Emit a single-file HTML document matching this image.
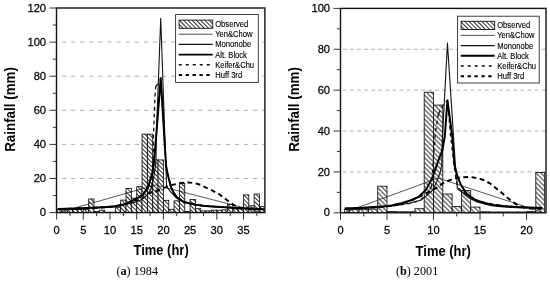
<!DOCTYPE html>
<html><head><meta charset="utf-8"><title>Rainfall hyetographs</title>
<style>
html,body{margin:0;padding:0;background:#fff;}
svg{display:block;}
.tk{font-family:"Liberation Sans",sans-serif;font-size:11.8px;fill:#000;stroke:#000;stroke-width:0.25px;}
.ax{font-family:"Liberation Sans",sans-serif;font-size:13.4px;font-weight:bold;fill:#000;}
.lg{font-family:"Liberation Sans",sans-serif;font-size:8.15px;fill:#000;stroke:#000;stroke-width:0.12px;}
.cap{font-family:"Liberation Serif",serif;font-size:12.2px;fill:#000;}
</style></head><body>
<svg width="550" height="282" viewBox="0 0 550 282">
<defs>
<pattern id="hatch" patternUnits="userSpaceOnUse" width="3" height="3" patternTransform="rotate(45)">
<rect width="3" height="3" fill="#fff"/>
<line x1="0" y1="1.5" x2="3" y2="1.5" stroke="#000" stroke-width="0.82"/>
</pattern>
<pattern id="hatchB" patternUnits="userSpaceOnUse" width="3.4" height="3.4" patternTransform="rotate(45)">
<rect width="3.4" height="3.4" fill="#fff"/>
<line x1="0" y1="1.7" x2="3.4" y2="1.7" stroke="#000" stroke-width="0.85"/>
</pattern>
</defs>
<rect width="550" height="282" fill="#fff"/>
<clipPath id="clip1"><rect x="56.5" y="8" width="208.4" height="204.6"/></clipPath>
<line x1="61.9" y1="178.5" x2="264.9" y2="178.5" stroke="#b0b0b0" stroke-width="1" stroke-dasharray="4.3 4.8"/>
<line x1="61.9" y1="144.4" x2="264.9" y2="144.4" stroke="#b0b0b0" stroke-width="1" stroke-dasharray="4.3 4.8"/>
<line x1="61.9" y1="110.3" x2="264.9" y2="110.3" stroke="#b0b0b0" stroke-width="1" stroke-dasharray="4.3 4.8"/>
<line x1="61.9" y1="76.2" x2="264.9" y2="76.2" stroke="#b0b0b0" stroke-width="1" stroke-dasharray="4.3 4.8"/>
<line x1="61.9" y1="42.1" x2="264.9" y2="42.1" stroke="#b0b0b0" stroke-width="1" stroke-dasharray="4.3 4.8"/>
<g clip-path="url(#clip1)">
<rect x="57.67" y="209.53" width="4.27" height="3.07" fill="url(#hatch)" stroke="#111" stroke-width="0.85"/>
<rect x="61.94" y="209.53" width="5.34" height="3.07" fill="url(#hatch)" stroke="#111" stroke-width="0.85"/>
<rect x="67.28" y="209.7" width="5.34" height="2.9" fill="url(#hatch)" stroke="#111" stroke-width="0.85"/>
<rect x="72.62" y="209.36" width="5.34" height="3.24" fill="url(#hatch)" stroke="#111" stroke-width="0.85"/>
<rect x="77.96" y="209.53" width="5.34" height="3.07" fill="url(#hatch)" stroke="#111" stroke-width="0.85"/>
<rect x="83.3" y="209.36" width="5.34" height="3.24" fill="url(#hatch)" stroke="#111" stroke-width="0.85"/>
<rect x="88.64" y="198.96" width="5.34" height="13.64" fill="url(#hatch)" stroke="#111" stroke-width="0.85"/>
<rect x="93.98" y="211.41" width="5.34" height="1.19" fill="url(#hatch)" stroke="#111" stroke-width="0.85"/>
<rect x="99.32" y="210.21" width="5.34" height="2.39" fill="url(#hatch)" stroke="#111" stroke-width="0.85"/>
<rect x="104.66" y="212.26" width="5.34" height="0.34" fill="url(#hatch)" stroke="#111" stroke-width="0.85"/>
<rect x="110" y="212.26" width="5.34" height="0.34" fill="url(#hatch)" stroke="#111" stroke-width="0.85"/>
<rect x="115.34" y="207.31" width="5.34" height="5.29" fill="url(#hatch)" stroke="#111" stroke-width="0.85"/>
<rect x="120.68" y="200.15" width="5.34" height="12.45" fill="url(#hatch)" stroke="#111" stroke-width="0.85"/>
<rect x="126.02" y="188.56" width="5.34" height="24.04" fill="url(#hatch)" stroke="#111" stroke-width="0.85"/>
<rect x="131.36" y="198.11" width="5.34" height="14.49" fill="url(#hatch)" stroke="#111" stroke-width="0.85"/>
<rect x="136.7" y="186.68" width="5.34" height="25.92" fill="url(#hatch)" stroke="#111" stroke-width="0.85"/>
<rect x="142.04" y="134.17" width="5.34" height="78.43" fill="url(#hatch)" stroke="#111" stroke-width="0.85"/>
<rect x="147.38" y="134.17" width="5.34" height="78.43" fill="url(#hatch)" stroke="#111" stroke-width="0.85"/>
<rect x="152.72" y="159.92" width="5.34" height="52.68" fill="url(#hatch)" stroke="#111" stroke-width="0.85"/>
<rect x="158.06" y="159.92" width="5.34" height="52.68" fill="url(#hatch)" stroke="#111" stroke-width="0.85"/>
<rect x="163.4" y="200.32" width="5.34" height="12.28" fill="url(#hatch)" stroke="#111" stroke-width="0.85"/>
<rect x="168.74" y="209.36" width="5.34" height="3.24" fill="url(#hatch)" stroke="#111" stroke-width="0.85"/>
<rect x="174.08" y="200.84" width="5.34" height="11.76" fill="url(#hatch)" stroke="#111" stroke-width="0.85"/>
<rect x="179.42" y="183.1" width="5.34" height="29.5" fill="url(#hatch)" stroke="#111" stroke-width="0.85"/>
<rect x="184.76" y="211.58" width="5.34" height="1.02" fill="url(#hatch)" stroke="#111" stroke-width="0.85"/>
<rect x="190.1" y="199.47" width="5.34" height="13.13" fill="url(#hatch)" stroke="#111" stroke-width="0.85"/>
<rect x="195.44" y="208.68" width="5.34" height="3.92" fill="url(#hatch)" stroke="#111" stroke-width="0.85"/>
<rect x="200.78" y="210.89" width="5.34" height="1.71" fill="url(#hatch)" stroke="#111" stroke-width="0.85"/>
<rect x="206.12" y="210.89" width="5.34" height="1.71" fill="url(#hatch)" stroke="#111" stroke-width="0.85"/>
<rect x="211.46" y="210.21" width="5.34" height="2.39" fill="url(#hatch)" stroke="#111" stroke-width="0.85"/>
<rect x="216.8" y="210.21" width="5.34" height="2.39" fill="url(#hatch)" stroke="#111" stroke-width="0.85"/>
<rect x="222.14" y="209.87" width="5.34" height="2.73" fill="url(#hatch)" stroke="#111" stroke-width="0.85"/>
<rect x="227.48" y="204.59" width="5.34" height="8.01" fill="url(#hatch)" stroke="#111" stroke-width="0.85"/>
<rect x="232.82" y="209.02" width="5.34" height="3.58" fill="url(#hatch)" stroke="#111" stroke-width="0.85"/>
<rect x="238.16" y="209.02" width="5.34" height="3.58" fill="url(#hatch)" stroke="#111" stroke-width="0.85"/>
<rect x="243.5" y="194.87" width="5.34" height="17.73" fill="url(#hatch)" stroke="#111" stroke-width="0.85"/>
<rect x="248.84" y="205.78" width="5.34" height="6.82" fill="url(#hatch)" stroke="#111" stroke-width="0.85"/>
<rect x="254.18" y="194.02" width="5.34" height="18.58" fill="url(#hatch)" stroke="#111" stroke-width="0.85"/>
<rect x="259.52" y="206.63" width="4.54" height="5.97" fill="url(#hatch)" stroke="#111" stroke-width="0.85"/>
<polyline points="59.27,212.43 155.39,184.98 262.19,212.43" fill="none" stroke="#222" stroke-width="0.75"/>
<polyline points="152.72,185.32 150.05,191.29 144.71,196.4 139.37,199.81 131.36,202.71 120.68,205.1 104.66,207.31 83.3,208.68 59.27,209.36" fill="none" stroke="#111" stroke-width="1.3" stroke-dasharray="3.7 3.3"/>
<polyline points="155.92,85.75 155.12,93.25 153.52,134.17 152.72,185.32" fill="none" stroke="#111" stroke-width="1.3" stroke-dasharray="3.7 3.3"/>
<polyline points="155.92,85.75 158.59,83.87 160.73,77.91 164.25,136.05 166.07,166.05 171.41,187.88 176.75,196.74 184.76,201.86 195.44,204.42 211.46,206.29 232.82,207.83 262.19,209.53" fill="none" stroke="#111" stroke-width="1.3" stroke-dasharray="3.7 3.3"/>
<polyline points="59.27,209.19 75.29,208.51 93.98,207.74 106,207.14 114,206.55 120.15,205.35 126.02,203.99 134.4,199.98 138.84,197.6 143.11,194.7 147.38,193.5 154.86,191.63 160.73,189.24 167.14,186.68 173.28,184.64 181.02,183.1 188.5,182.42 195.44,183.27 200.78,184.98 206.49,187.88 212.53,190.61 218.94,194.02 224.81,198.45 230.68,203.05 234.96,205.61 239.76,207.66 248.84,208.68 262.19,209.28" fill="none" stroke="#000" stroke-width="2" stroke-dasharray="4.8 3.5"/>
<polyline points="57.67,209.1 75.29,208.68 93.98,207.83 110,206.97 123.35,204.84 128.69,203.73 134.03,202.37 139.37,200.66 144.71,197.43 146.85,195.04 150.74,190.01 151.65,185.32 153.95,175.94 155.55,165.37 156.03,159.75 156.3,136.05 160.73,18.23 166.07,171.68 166.6,186.68 170.88,192.14 176.75,198.28 182.09,201.52 187.43,203.22 195.97,205.27 206.12,206.46 216.8,206.97 232.82,207.83 248.84,208.68 263.79,209.28" fill="none" stroke="#111" stroke-width="1.1" stroke-linejoin="round"/>
<polyline points="57.67,208.93 75.29,208.42 93.98,207.66 106,207.06 114,206.46 120.15,205.27 126.02,203.9 134.4,199.81 138.84,197.43 143.11,194.36 145.78,190.61 148.45,186.17 149.68,181.91 152.4,172.53 153.95,162.3 156.19,136.05 160.73,77.91 164.25,136.05 166.07,166.05 167.51,173.73 170.88,186.68 174.45,194.7 176.75,197.08 182.09,201.01 185.83,202.54 195.97,204.76 206.12,206.12 216.8,206.63 232.82,207.66 248.84,208.51 263.79,209.19" fill="none" stroke="#000" stroke-width="2" stroke-linejoin="round"/>
</g>
<rect x="56.5" y="8" width="208.4" height="204.6" fill="none" stroke="#111" stroke-width="1.4"/>
<line x1="49.5" y1="212.6" x2="56.5" y2="212.6" stroke="#333" stroke-width="1"/>
<text transform="translate(46.1 216.2) scale(0.95 1)" text-anchor="end" class="tk">0</text>
<line x1="52.9" y1="195.55" x2="56.5" y2="195.55" stroke="#333" stroke-width="1"/>
<line x1="49.5" y1="178.5" x2="56.5" y2="178.5" stroke="#333" stroke-width="1"/>
<text transform="translate(46.1 182.1) scale(0.95 1)" text-anchor="end" class="tk">20</text>
<line x1="52.9" y1="161.45" x2="56.5" y2="161.45" stroke="#333" stroke-width="1"/>
<line x1="49.5" y1="144.4" x2="56.5" y2="144.4" stroke="#333" stroke-width="1"/>
<text transform="translate(46.1 148) scale(0.95 1)" text-anchor="end" class="tk">40</text>
<line x1="52.9" y1="127.35" x2="56.5" y2="127.35" stroke="#333" stroke-width="1"/>
<line x1="49.5" y1="110.3" x2="56.5" y2="110.3" stroke="#333" stroke-width="1"/>
<text transform="translate(46.1 113.9) scale(0.95 1)" text-anchor="end" class="tk">60</text>
<line x1="52.9" y1="93.25" x2="56.5" y2="93.25" stroke="#333" stroke-width="1"/>
<line x1="49.5" y1="76.2" x2="56.5" y2="76.2" stroke="#333" stroke-width="1"/>
<text transform="translate(46.1 79.8) scale(0.95 1)" text-anchor="end" class="tk">80</text>
<line x1="52.9" y1="59.15" x2="56.5" y2="59.15" stroke="#333" stroke-width="1"/>
<line x1="49.5" y1="42.1" x2="56.5" y2="42.1" stroke="#333" stroke-width="1"/>
<text transform="translate(46.1 45.7) scale(0.95 1)" text-anchor="end" class="tk">100</text>
<line x1="52.9" y1="25.05" x2="56.5" y2="25.05" stroke="#333" stroke-width="1"/>
<line x1="49.5" y1="8" x2="56.5" y2="8" stroke="#333" stroke-width="1"/>
<text transform="translate(46.1 11.6) scale(0.95 1)" text-anchor="end" class="tk">120</text>
<line x1="56.6" y1="212.6" x2="56.6" y2="219.6" stroke="#333" stroke-width="1"/>
<text transform="translate(56.6 234) scale(0.95 1)" text-anchor="middle" class="tk">0</text>
<line x1="69.95" y1="212.6" x2="69.95" y2="216.2" stroke="#333" stroke-width="1"/>
<line x1="83.3" y1="212.6" x2="83.3" y2="219.6" stroke="#333" stroke-width="1"/>
<text transform="translate(83.3 234) scale(0.95 1)" text-anchor="middle" class="tk">5</text>
<line x1="96.65" y1="212.6" x2="96.65" y2="216.2" stroke="#333" stroke-width="1"/>
<line x1="110" y1="212.6" x2="110" y2="219.6" stroke="#333" stroke-width="1"/>
<text transform="translate(110 234) scale(0.95 1)" text-anchor="middle" class="tk">10</text>
<line x1="123.35" y1="212.6" x2="123.35" y2="216.2" stroke="#333" stroke-width="1"/>
<line x1="136.7" y1="212.6" x2="136.7" y2="219.6" stroke="#333" stroke-width="1"/>
<text transform="translate(136.7 234) scale(0.95 1)" text-anchor="middle" class="tk">15</text>
<line x1="150.05" y1="212.6" x2="150.05" y2="216.2" stroke="#333" stroke-width="1"/>
<line x1="163.4" y1="212.6" x2="163.4" y2="219.6" stroke="#333" stroke-width="1"/>
<text transform="translate(163.4 234) scale(0.95 1)" text-anchor="middle" class="tk">20</text>
<line x1="176.75" y1="212.6" x2="176.75" y2="216.2" stroke="#333" stroke-width="1"/>
<line x1="190.1" y1="212.6" x2="190.1" y2="219.6" stroke="#333" stroke-width="1"/>
<text transform="translate(190.1 234) scale(0.95 1)" text-anchor="middle" class="tk">25</text>
<line x1="203.45" y1="212.6" x2="203.45" y2="216.2" stroke="#333" stroke-width="1"/>
<line x1="216.8" y1="212.6" x2="216.8" y2="219.6" stroke="#333" stroke-width="1"/>
<text transform="translate(216.8 234) scale(0.95 1)" text-anchor="middle" class="tk">30</text>
<line x1="230.15" y1="212.6" x2="230.15" y2="216.2" stroke="#333" stroke-width="1"/>
<line x1="243.5" y1="212.6" x2="243.5" y2="219.6" stroke="#333" stroke-width="1"/>
<text transform="translate(243.5 234) scale(0.95 1)" text-anchor="middle" class="tk">35</text>
<line x1="256.85" y1="212.6" x2="256.85" y2="216.2" stroke="#333" stroke-width="1"/>
<text transform="translate(161.1 255.4) scale(0.94 1)" text-anchor="middle" class="ax" style="font-size:13.8px">Time (hr)</text>
<text transform="translate(15.4 109.5) rotate(-90) scale(0.93 1)" text-anchor="middle" class="ax" style="font-size:14.4px">Rainfall (mm)</text>
<text x="137.2" y="275.4" text-anchor="middle" class="cap">(<tspan font-weight="bold">a</tspan>) 1984</text>
<rect x="175.6" y="14.55" width="82.7" height="67.85" fill="#fff" stroke="#2a2a2a" stroke-width="0.9"/>
<rect x="179.1" y="20.1" width="33.6" height="8.2" fill="url(#hatch)" stroke="#111" stroke-width="0.9"/>
<text transform="translate(215.2 26.9) scale(0.935 1)" class="lg">Observed</text>
<line x1="178.7" y1="34.2" x2="212.7" y2="34.2" stroke="#222" stroke-width="0.8"/>
<text transform="translate(215.2 37.1) scale(0.935 1)" class="lg">Yen&amp;Chow</text>
<line x1="178.7" y1="44.4" x2="212.7" y2="44.4" stroke="#111" stroke-width="1.1"/>
<text transform="translate(215.2 47.3) scale(0.935 1)" class="lg">Mononobe</text>
<line x1="178.7" y1="54.6" x2="212.7" y2="54.6" stroke="#000" stroke-width="1.9"/>
<text transform="translate(215.2 57.5) scale(0.935 1)" class="lg">Alt. Block</text>
<line x1="178.7" y1="64.8" x2="212.7" y2="64.8" stroke="#111" stroke-width="1.5" stroke-dasharray="3.1 3.9"/>
<text transform="translate(215.2 67.7) scale(0.935 1)" class="lg">Keifer&amp;Chu</text>
<line x1="178.7" y1="75" x2="212.7" y2="75" stroke="#000" stroke-width="2.1" stroke-dasharray="3.3 3.6"/>
<text transform="translate(215.2 77.9) scale(0.935 1)" class="lg">Huff 3rd</text>
<clipPath id="clip2"><rect x="340.5" y="8.4" width="205.5" height="204.4"/></clipPath>
<line x1="342.8" y1="171.92" x2="546" y2="171.92" stroke="#b0b0b0" stroke-width="1" stroke-dasharray="4 3.1"/>
<line x1="342.8" y1="131.04" x2="546" y2="131.04" stroke="#b0b0b0" stroke-width="1" stroke-dasharray="4 3.1"/>
<line x1="342.8" y1="90.16" x2="546" y2="90.16" stroke="#b0b0b0" stroke-width="1" stroke-dasharray="4 3.1"/>
<line x1="342.8" y1="49.28" x2="546" y2="49.28" stroke="#b0b0b0" stroke-width="1" stroke-dasharray="4 3.1"/>
<g clip-path="url(#clip2)">
<rect x="344.69" y="209.33" width="5.12" height="3.47" fill="url(#hatchB)" stroke="#111" stroke-width="0.85"/>
<rect x="349.8" y="209.33" width="9.3" height="3.47" fill="url(#hatchB)" stroke="#111" stroke-width="0.85"/>
<rect x="359.1" y="209.33" width="9.3" height="3.47" fill="url(#hatchB)" stroke="#111" stroke-width="0.85"/>
<rect x="368.4" y="209.12" width="9.3" height="3.68" fill="url(#hatchB)" stroke="#111" stroke-width="0.85"/>
<rect x="377.7" y="186.23" width="9.3" height="26.57" fill="url(#hatchB)" stroke="#111" stroke-width="0.85"/>
<rect x="387" y="211.57" width="9.3" height="1.23" fill="url(#hatchB)" stroke="#111" stroke-width="0.85"/>
<rect x="396.3" y="211.78" width="9.3" height="1.02" fill="url(#hatchB)" stroke="#111" stroke-width="0.85"/>
<rect x="405.6" y="211.78" width="9.3" height="1.02" fill="url(#hatchB)" stroke="#111" stroke-width="0.85"/>
<rect x="414.9" y="208.71" width="9.3" height="4.09" fill="url(#hatchB)" stroke="#111" stroke-width="0.85"/>
<rect x="424.2" y="92.2" width="9.3" height="120.6" fill="url(#hatchB)" stroke="#111" stroke-width="0.85"/>
<rect x="433.5" y="105.08" width="9.3" height="107.72" fill="url(#hatchB)" stroke="#111" stroke-width="0.85"/>
<rect x="442.8" y="194" width="9.3" height="18.8" fill="url(#hatchB)" stroke="#111" stroke-width="0.85"/>
<rect x="452.1" y="206.46" width="9.3" height="6.34" fill="url(#hatchB)" stroke="#111" stroke-width="0.85"/>
<rect x="461.4" y="190.52" width="9.3" height="22.28" fill="url(#hatchB)" stroke="#111" stroke-width="0.85"/>
<rect x="470.7" y="207.08" width="9.3" height="5.72" fill="url(#hatchB)" stroke="#111" stroke-width="0.85"/>
<rect x="480" y="211.78" width="9.3" height="1.02" fill="url(#hatchB)" stroke="#111" stroke-width="0.85"/>
<rect x="489.3" y="211.98" width="9.3" height="0.82" fill="url(#hatchB)" stroke="#111" stroke-width="0.85"/>
<rect x="498.6" y="211.98" width="9.3" height="0.82" fill="url(#hatchB)" stroke="#111" stroke-width="0.85"/>
<rect x="507.9" y="211.98" width="9.3" height="0.82" fill="url(#hatchB)" stroke="#111" stroke-width="0.85"/>
<rect x="517.2" y="211.98" width="9.3" height="0.82" fill="url(#hatchB)" stroke="#111" stroke-width="0.85"/>
<rect x="526.5" y="211.57" width="9.3" height="1.23" fill="url(#hatchB)" stroke="#111" stroke-width="0.85"/>
<rect x="535.8" y="172.53" width="8.84" height="40.27" fill="url(#hatchB)" stroke="#111" stroke-width="0.85"/>
<polyline points="345.15,212.19 438.15,178.05 542.31,212.19" fill="none" stroke="#222" stroke-width="0.75"/>
<polyline points="431.64,186.23 426.99,194.4 419.55,200.54 410.25,203.4 391.65,206.26 368.4,208.1 345.15,209.02" fill="none" stroke="#111" stroke-width="1.3" stroke-dasharray="3.7 3.3"/>
<polyline points="438.43,113.87 435.36,133.08 433.22,160.68 431.64,186.23" fill="none" stroke="#111" stroke-width="1.3" stroke-dasharray="3.7 3.3"/>
<polyline points="438.43,113.87 442.8,105.49 447.45,100.38 450.52,134.92 453.5,161.09 455.82,178.05 457.68,187.25 463.26,192.36 470.7,197.88 484.65,202.58 503.25,205.85 542.31,208.71" fill="none" stroke="#111" stroke-width="1.3" stroke-dasharray="3.7 3.3"/>
<polyline points="345.15,208.81 363.75,207.89 382.35,206.67 391.65,205.65 400.02,203.81 410.25,200.94 416.76,198.08 425.13,193.79 437.22,187.45 443.73,182.75 452.1,179.28 461.4,177.23 469.77,176.83 477.21,178.05 484.65,180.3 490.23,183.57 495.35,187.66 500.46,191.75 506.04,196.65 511.62,201.15 517.2,204.83 523.71,207.49 529.75,208.51 542.31,208.71" fill="none" stroke="#000" stroke-width="2" stroke-dasharray="4.8 3.5"/>
<polyline points="344.69,208.81 363.75,208 382.35,206.77 400.02,204.83 410.25,202.99 417.97,200.94 421.41,199.92 426.99,195.43 432.76,190.01 437.03,181.12 440.57,171.31 441.87,163.74 442.24,141.26 447.45,43.15 455.82,171.92 456.75,176.01 457.31,188.68 461.4,191.75 466.98,196.45 476.28,201.76 491.16,205.65 503.25,206.87 517.2,207.69 542.31,208.51" fill="none" stroke="#111" stroke-width="1.1" stroke-linejoin="round"/>
<polyline points="344.69,208.61 363.75,207.69 382.35,206.46 387.93,205.95 391.65,205.44 400.02,203.6 410.25,200.54 414.9,198.49 418.62,196.86 420.01,195.43 425.69,190.11 430.62,181.12 432.11,178.46 435.64,168.45 439.08,158.63 442.34,150.46 444.85,135.95 447.45,100.38 452.19,135.95 454.52,164.97 457.31,175.91 460.94,185 466.98,194.1 476.28,200.54 491.16,204.62 503.25,206.05 517.2,207.08 542.31,207.89" fill="none" stroke="#000" stroke-width="2" stroke-linejoin="round"/>
</g>
<rect x="340.5" y="8.4" width="205.5" height="204.4" fill="none" stroke="#111" stroke-width="1.4"/>
<line x1="333.5" y1="212.8" x2="340.5" y2="212.8" stroke="#333" stroke-width="1"/>
<text transform="translate(330.1 216.4) scale(0.95 1)" text-anchor="end" class="tk">0</text>
<line x1="336.9" y1="192.36" x2="340.5" y2="192.36" stroke="#333" stroke-width="1"/>
<line x1="333.5" y1="171.92" x2="340.5" y2="171.92" stroke="#333" stroke-width="1"/>
<text transform="translate(330.1 175.52) scale(0.95 1)" text-anchor="end" class="tk">20</text>
<line x1="336.9" y1="151.48" x2="340.5" y2="151.48" stroke="#333" stroke-width="1"/>
<line x1="333.5" y1="131.04" x2="340.5" y2="131.04" stroke="#333" stroke-width="1"/>
<text transform="translate(330.1 134.64) scale(0.95 1)" text-anchor="end" class="tk">40</text>
<line x1="336.9" y1="110.6" x2="340.5" y2="110.6" stroke="#333" stroke-width="1"/>
<line x1="333.5" y1="90.16" x2="340.5" y2="90.16" stroke="#333" stroke-width="1"/>
<text transform="translate(330.1 93.76) scale(0.95 1)" text-anchor="end" class="tk">60</text>
<line x1="336.9" y1="69.72" x2="340.5" y2="69.72" stroke="#333" stroke-width="1"/>
<line x1="333.5" y1="49.28" x2="340.5" y2="49.28" stroke="#333" stroke-width="1"/>
<text transform="translate(330.1 52.88) scale(0.95 1)" text-anchor="end" class="tk">80</text>
<line x1="336.9" y1="28.84" x2="340.5" y2="28.84" stroke="#333" stroke-width="1"/>
<line x1="333.5" y1="8.4" x2="340.5" y2="8.4" stroke="#333" stroke-width="1"/>
<text transform="translate(330.1 12) scale(0.95 1)" text-anchor="end" class="tk">100</text>
<line x1="340.5" y1="212.8" x2="340.5" y2="219.8" stroke="#333" stroke-width="1"/>
<text transform="translate(340.5 234.2) scale(0.95 1)" text-anchor="middle" class="tk">0</text>
<line x1="363.75" y1="212.8" x2="363.75" y2="216.4" stroke="#333" stroke-width="1"/>
<line x1="387" y1="212.8" x2="387" y2="219.8" stroke="#333" stroke-width="1"/>
<text transform="translate(387 234.2) scale(0.95 1)" text-anchor="middle" class="tk">5</text>
<line x1="410.25" y1="212.8" x2="410.25" y2="216.4" stroke="#333" stroke-width="1"/>
<line x1="433.5" y1="212.8" x2="433.5" y2="219.8" stroke="#333" stroke-width="1"/>
<text transform="translate(433.5 234.2) scale(0.95 1)" text-anchor="middle" class="tk">10</text>
<line x1="456.75" y1="212.8" x2="456.75" y2="216.4" stroke="#333" stroke-width="1"/>
<line x1="480" y1="212.8" x2="480" y2="219.8" stroke="#333" stroke-width="1"/>
<text transform="translate(480 234.2) scale(0.95 1)" text-anchor="middle" class="tk">15</text>
<line x1="503.25" y1="212.8" x2="503.25" y2="216.4" stroke="#333" stroke-width="1"/>
<line x1="526.5" y1="212.8" x2="526.5" y2="219.8" stroke="#333" stroke-width="1"/>
<text transform="translate(526.5 234.2) scale(0.95 1)" text-anchor="middle" class="tk">20</text>
<text transform="translate(443.2 255.6) scale(0.94 1)" text-anchor="middle" class="ax" style="font-size:13.8px">Time (hr)</text>
<text transform="translate(299.4 109.5) rotate(-90) scale(0.93 1)" text-anchor="middle" class="ax" style="font-size:14.4px">Rainfall (mm)</text>
<text x="417.1" y="275.4" text-anchor="middle" class="cap">(<tspan font-weight="bold">b</tspan>) 2001</text>
<rect x="457.6" y="16.2" width="81.6" height="66.8" fill="#fff" stroke="#2a2a2a" stroke-width="0.9"/>
<rect x="461.1" y="21.3" width="33.6" height="8.2" fill="url(#hatch)" stroke="#111" stroke-width="0.9"/>
<text transform="translate(497.2 28.1) scale(0.935 1)" class="lg">Observed</text>
<line x1="460.7" y1="35.4" x2="494.7" y2="35.4" stroke="#222" stroke-width="0.8"/>
<text transform="translate(497.2 38.3) scale(0.935 1)" class="lg">Yen&amp;Chow</text>
<line x1="460.7" y1="45.6" x2="494.7" y2="45.6" stroke="#111" stroke-width="1.1"/>
<text transform="translate(497.2 48.5) scale(0.935 1)" class="lg">Mononobe</text>
<line x1="460.7" y1="55.8" x2="494.7" y2="55.8" stroke="#000" stroke-width="1.9"/>
<text transform="translate(497.2 58.7) scale(0.935 1)" class="lg">Alt. Block</text>
<line x1="460.7" y1="66" x2="494.7" y2="66" stroke="#111" stroke-width="1.5" stroke-dasharray="3.1 3.9"/>
<text transform="translate(497.2 68.9) scale(0.935 1)" class="lg">Keifer&amp;Chu</text>
<line x1="460.7" y1="76.2" x2="494.7" y2="76.2" stroke="#000" stroke-width="2.1" stroke-dasharray="3.3 3.6"/>
<text transform="translate(497.2 79.1) scale(0.935 1)" class="lg">Huff 3rd</text>
</svg>
</body></html>
